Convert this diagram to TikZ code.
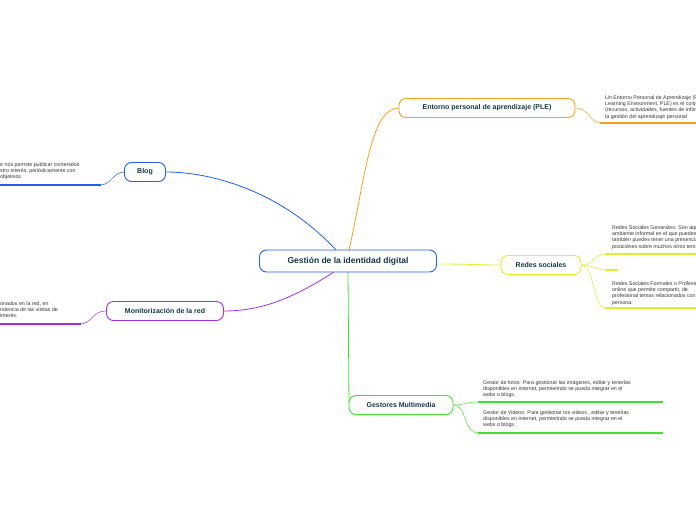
\documentclass[tikz,border=0pt]{standalone}
\usepackage{fontspec}
\setmainfont{Liberation Sans}
\begin{document}
\begin{tikzpicture}[x=1pt,y=-1pt,
  topic/.style={draw=#1,line width=0.9pt,rounded corners=7pt,fill=white,font=\fontsize{7}{8}\selectfont\bfseries,text=ctext,inner xsep=6pt,minimum height=19pt},
  txt/.style={anchor=north west,align=left,font=\fontsize{5.3}{6.4}\selectfont,inner sep=0pt,text=black!80},
  conn/.style={draw=#1,line width=0.8pt},
  ul/.style={draw=#1,line width=1.3pt}]
\useasboundingbox (0,0) rectangle (696,520);
\clip (0,0) rectangle (696,520);
\definecolor{cblue}{HTML}{2060F0}
\definecolor{corange}{HTML}{F5A020}
\definecolor{cyel}{HTML}{D8F030}
\definecolor{cgreen}{HTML}{40E030}
\definecolor{cpurp}{HTML}{A030E8}
\definecolor{ctext}{HTML}{123848}
% connectors
\coordinate (c1) at (349,250);
\coordinate (c2) at (336,250);
\coordinate (c3) at (334,272);
\coordinate (c4) at (348,272);
\draw[conn=corange] (c1) .. controls (365,180) and (370,108) .. (399,108);
\draw[conn=cblue] (c2) .. controls (280,190) and (210,172) .. (166,172);
\draw[conn=cpurp] (c3) .. controls (290,300) and (260,311) .. (223,311);
\draw[conn=cyel] (437,264) .. controls (470,264) and (480,265) .. (501,265);
\draw[conn=cgreen] (c4) -- (349,405);
% center
\node[draw=cblue,line width=0.9pt,rounded corners=7pt,fill=white,font=\fontsize{8.5}{10}\selectfont\bfseries,text=ctext,minimum width=177pt,minimum height=22pt] (center) at (348,261) {Gestión de la identidad digital};
\node[topic=corange,minimum width=176pt] (ple) at (487,108) {Entorno personal de aprendizaje (PLE)};
\node[topic=cyel,minimum width=80pt] (redes) at (541,265) {Redes sociales};
\node[topic=cgreen,minimum width=104pt] (gest) at (401,405) {Gestores Multimedia};
\node[topic=cpurp,minimum width=117pt] (mon) at (165,311) {Monitorización de la red};
\node[topic=cblue,minimum width=41pt] (blog) at (145,172) {Blog};
% PLE text
\node[txt] (t1) at (605,95) {Un Entorno Personal de Aprendizaje (Personal\\Learning Environment, PLE) es el conjunto\\(recursos, actividades, fuentes de información\\la gestión del aprendizaje personal};
\draw[conn=corange,line width=0.5pt] (575,108) .. controls (590,108) and (588,123) .. (603,123);
\draw[ul=corange] (600,123) -- (696,123);
% Redes texts
\node[txt] (t2) at (612,225) {Redes Sociales Generales: Son aquellas en\\ambiente informal en el que puedes\\también puedes tener una presencia\\posiciones sobre muchos otros temas};
\node[txt] (t3) at (612,281) {Redes Sociales Formales o Profesionales\\online que permite compartir, de\\profesional temas relacionados con\\persona.};
\draw[conn=cyel,line width=0.5pt] (581,265) .. controls (595,265) and (592,254) .. (606,254);
\draw[conn=cyel,line width=0.5pt] (581,265) .. controls (595,265) and (595,270) .. (606,270);
\draw[conn=cyel,line width=0.5pt] (581,265) .. controls (595,265) and (592,308) .. (606,308);
\draw[ul=cyel] (605,254) -- (696,254);
\draw[ul=cyel] (605,270) -- (618,270);
\draw[ul=cyel] (605,308) -- (696,308);
% Gestores texts
\node[txt] (t4) at (483,380) {Gestor de fotos: Para gestionar las imágenes, editar y tenerlas\\disponibles en internet, permieitndo se pueda integrar en el\\webs o blogs.};
\node[txt] (t5) at (483,410) {Gestor de Videos: Para gestionar los videos , editar y tenerlas\\disponibles en internet, permieitndo se pueda integrar en el\\webs o blogs.};
\draw[conn=cgreen,line width=0.5pt] (453,405) .. controls (465,405) and (465,402) .. (479,402);
\draw[conn=cgreen,line width=0.5pt] (453,405) .. controls (468,405) and (462,433) .. (479,433);
\draw[ul=cgreen] (478,402) -- (663,402);
\draw[ul=cgreen] (478,433) -- (663,433);
% Blog text
\node[txt] (t6) at (0,162) {e nos permite publicar contenidos\\stro interés,  periódicamente con\\ objetivos};
\draw[conn=cblue,line width=0.5pt] (125,172) .. controls (112,172) and (112,185) .. (100,185);
\draw[ul=cblue] (0,185) -- (101,185);
% Monitor text
\node[txt] (t7) at (0,301) {onados en la red, en\\ndencia de las visitas de\\interés.};
\draw[conn=cpurp,line width=0.5pt] (106,311) .. controls (92,311) and (92,324) .. (80,324);
\draw[ul=cpurp] (0,324) -- (81,324);
\end{tikzpicture}
\end{document}
